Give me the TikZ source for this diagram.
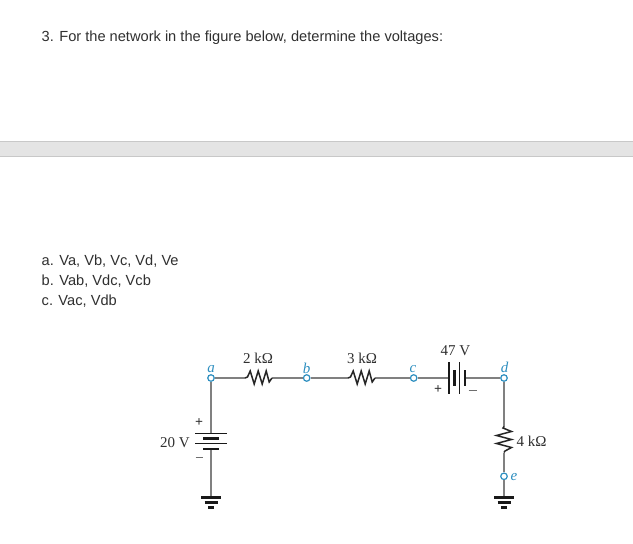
\documentclass[tikz,border=0pt]{standalone}
\usepackage{fontspec}
\setmainfont{Liberation Serif}
\newfontfamily\arialfont{Liberation Sans}
\definecolor{wirec}{HTML}{808080}
\definecolor{termc}{HTML}{2E8FC0}
\definecolor{inkc}{HTML}{303030}
\definecolor{bandc}{HTML}{E4E4E4}
\definecolor{bandl}{HTML}{C8C8C8}
\tikzset{
  wire/.style={draw=wirec,line width=1.5pt},
  zig/.style={draw=black!85,line width=1.5pt,line join=miter},
  terminal/.style={circle,draw=termc,fill=white,line width=1.2pt,minimum size=6.5pt,inner sep=0pt},
  plate/.style={draw=black!90,line width=1.5pt},
  thick plate/.style={draw=black!90,line width=2.6pt},
  val/.style={font=\fontsize{15}{17}\selectfont,text=inkc,inner sep=0pt},
  termlab/.style={font=\fontsize{15}{17}\selectfont\itshape,text=termc,inner sep=0pt},
  sign/.style={font=\bfseries\fontsize{14}{16}\selectfont,text=inkc,inner sep=0pt},
  body/.style={font=\arialfont\fontsize{14.63}{17}\selectfont,text=inkc,inner sep=0pt,anchor=base west},
}
\begin{document}
\begin{tikzpicture}[x=1pt,y=-1pt]
\useasboundingbox (0,0) rectangle (633,544);
\fill[white] (0,0) rectangle (633,544);
% grey band
\fill[bandc] (0,141) rectangle (633,156.5);
\draw[bandl,line width=0.9pt] (0,141) -- (633,141) (0,156.5) -- (633,156.5);
% question text
\node[body] (q) at (41.5,41.5) {3. For the network in the figure below, determine the voltages:};
\node[body] (la) at (41.5,265) {a. Va, Vb, Vc, Vd, Ve};
\node[body] (lb) at (41.5,285) {b. Vab, Vdc, Vcb};
\node[body] (lc) at (41.5,305) {c. Vac, Vdb};
% terminals
\node[terminal] (a) at (211,378) {};
\node[terminal] (b) at (306.7,378) {};
\node[terminal] (c) at (413.7,378) {};
\node[terminal] (d) at (504,378) {};
\node[terminal] (e) at (504,476.3) {};
% anchor points
\coordinate (r1a) at (245,378);  \coordinate (r1b) at (272,378);
\coordinate (r2a) at (348,378);  \coordinate (r2b) at (375,378);
\coordinate (b2a) at (449,378);  \coordinate (b2b) at (465,378);
\coordinate (r3a) at (504,426.5); \coordinate (r3b) at (504,452.5);
\coordinate (b1a) at (211,433.3); \coordinate (b1b) at (211,449);
\coordinate (g1) at (211,497.7); \coordinate (g2) at (504,497.7);
% wires
\draw[wire] (a) -- (r1a) (r1b) -- (b) (b) -- (r2a) (r2b) -- (c) (c) -- (b2a) (b2b) -- (d)
  (d) -- (r3a) (r3b) -- (e) (e) -- (g2) (a) -- (b1a) (b1b) -- (g1);
% resistors
\draw[zig] (r1a) -- ++(2.5,-1) -- ++(2.7,-6) -- ++(4,13) -- ++(4,-13) -- ++(4,13) -- ++(4,-13) -- ++(3,11) -- (r1b);
\draw[zig] (r2a) -- ++(2.5,-1) -- ++(2.7,-6) -- ++(4,13) -- ++(4,-13) -- ++(4,13) -- ++(4,-13) -- ++(3,11) -- (r2b);
\draw[zig] (r3a) -- ++(-1,1.5) -- ++(8.5,3.5) -- ++(-15,4) -- ++(15,4) -- ++(-15,4) -- ++(15,4) -- ++(-6.5,3.5) -- (r3b);
% 20 V battery
\draw[plate] (195,433.3) -- (227,433.3) (195,443.7) -- (227,443.7);
\draw[thick plate] (203,438.7) -- (219,438.7) (203,449) -- (219,449);
% 47 V battery
\draw[plate] (449,362) -- (449,393.5) (459.7,362) -- (459.7,393.5);
\draw[thick plate] (454.3,370) -- (454.3,386) (465,370) -- (465,386);
% grounds
\draw[thick plate] (201,497.7) -- (221,497.7);
\draw[thick plate] (204.5,502.5) -- (217.5,502.5);
\draw[thick plate] (208,507.5) -- (214,507.5);
\draw[thick plate] (494,497.7) -- (514,497.7);
\draw[thick plate] (497.5,502.5) -- (510.5,502.5);
\draw[thick plate] (501,507.5) -- (507,507.5);
% labels
\node[val] (l2k) at (258,358.5) {2 kΩ};
\node[val] (l3k) at (362,358.5) {3 kΩ};
\node[val] (l47) at (455.5,351) {47 V};
\node[val] (l4k) at (531.5,441) {4 kΩ};
\node[val] (l20) at (175,443) {20 V};
\node[termlab] (ta) at (211,369) {a};
\node[termlab] (tb) at (306.7,368) {b};
\node[termlab] (tc) at (413,369) {c};
\node[termlab] (td) at (504.5,367.5) {d};
\node[termlab] (te) at (514,477) {e};
\node[sign] (p1) at (199,423) {+};
\node[sign] (p2) at (438,389.5) {+};
\coordinate (m1a) at (195.5,457.5); \coordinate (m1b) at (203,457.5);
\coordinate (m2a) at (468.5,390.5); \coordinate (m2b) at (476.5,390.5);
\draw[inkc!70,line width=1.1pt] (m1a) -- (m1b) (m2a) -- (m2b);
\end{tikzpicture}
\end{document}
